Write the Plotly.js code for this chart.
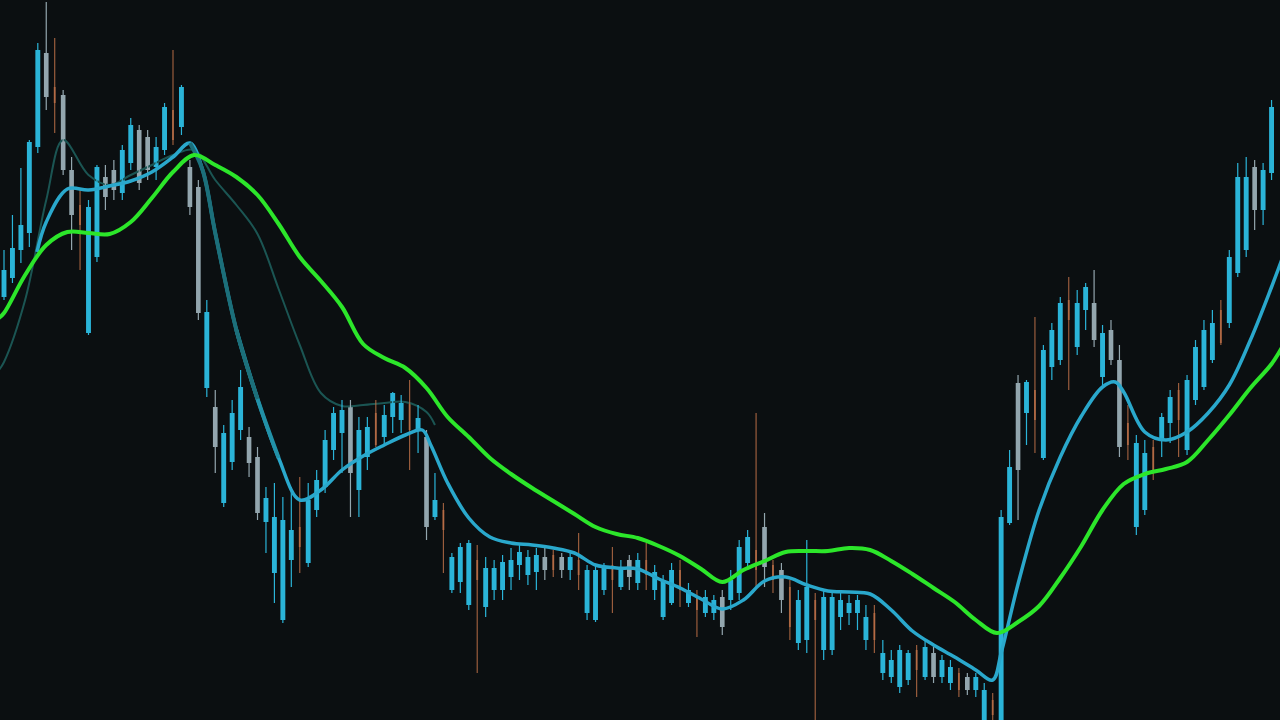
<!DOCTYPE html>
<html>
<head>
<meta charset="utf-8">
<script src="https://cdn.plot.ly/plotly-3.0.1.min.js"></script>
<style>
  html, body { margin: 0; padding: 0; background: #0b0f11; }
  #chart { width: 1280px; height: 720px; }
</style>
</head>
<body>
<div id="chart"></div>
<script>
// ---- candle data (arbitrary price units), one entry per bar ----
const candleType = [
  'up','up','up','up','up','down','doji','down','down','doji',
  'up','up','down','down','up','up','down','down','up','up',
  'doji','up','down','down','up','down','up','up','up','down',
  'down','up','up','up','up','doji','up','up','up','up',
  'up','down','up','up','doji','up','up','up','doji','up',
  'down','up','doji','up','up','up','doji','up','up','up',
  'up','up','up','up','down','doji','down','up','doji','up',
  'up','up','doji','up','down','up','doji','up','up','up',
  'doji','up','doji','up','up','down','up','up','up','doji',
  'down','doji','down','doji','up','up','doji','up','up','up',
  'up','up','up','doji','up','up','up','up','doji','up',
  'down','up','up','doji','down','up','up','doji','up','up',
  'down','up','doji','up','up','up','doji','up','up','down',
  'up','down','down','doji','up','up','doji','up','up','doji',
  'up','up','up','up','doji','up','up','up','down','up',
  'up'
];
const openP = [
  423,442,470,487,573,667,633,625,550,515,
  387,463,543,550,527,557,590,583,553,570,
  610,593,553,533,332,313,217,258,290,283,
  263,198,147,100,160,193,157,210,233,270,
  287,313,230,263,307,283,303,300,317,290,
  283,203,210,130,138,115,160,113,130,130,
  143,155,145,148,163,165,163,150,160,107,
  100,130,155,133,160,137,160,130,103,117,
  150,117,123,107,107,123,120,127,157,170,
  193,155,150,133,77,80,120,70,70,103,
  107,107,80,107,47,43,33,40,70,43,
  67,43,37,47,43,30,-5,20,-5,197,
  337,307,330,262,353,360,420,373,410,417,
  343,390,360,297,193,210,273,280,297,330,
  270,320,333,360,410,397,447,470,553,510,
  547
];
const closeP = [
  450,472,495,578,670,623,617,550,505,495,
  513,553,523,530,570,595,537,550,573,613,
  580,633,513,407,408,273,287,307,333,257,
  207,222,203,200,190,173,220,240,280,307,
  310,247,290,293,275,305,327,317,290,302,
  193,220,190,163,173,177,140,152,152,158,
  160,168,163,165,150,150,150,163,145,150,
  150,152,140,153,143,160,145,148,140,150,
  130,130,110,123,120,93,140,173,183,150,
  153,140,120,93,120,133,100,123,123,120,
  117,120,103,80,67,60,70,67,50,73,
  43,60,53,30,30,43,30,5,203,253,
  250,338,300,370,390,417,400,417,433,380,
  387,360,273,275,277,267,250,303,323,300,
  340,373,390,397,377,463,543,543,510,550,
  613
];
const highP = [
  470,505,552,580,677,718,682,630,563,530,
  520,555,555,560,575,602,595,590,583,617,
  670,635,560,540,420,330,295,320,350,293,
  273,233,237,223,233,243,237,250,290,313,
  320,320,303,303,320,315,328,325,340,315,
  290,247,217,167,177,180,175,163,160,165,
  172,175,170,172,172,170,167,170,187,155,
  154,157,173,160,165,167,177,155,145,157,
  160,137,130,130,125,130,150,180,190,307,
  207,160,157,140,130,180,127,130,130,127,
  125,125,115,115,80,70,75,70,75,80,
  73,65,60,52,47,47,37,27,210,270,
  345,340,403,375,397,423,443,430,437,450,
  395,400,375,315,285,280,280,307,330,337,
  345,380,400,410,420,470,557,563,560,557,
  620
];
const lowP = [
  420,437,457,473,567,610,587,545,470,450,
  385,458,510,520,520,550,530,540,540,565,
  575,585,505,400,323,247,213,250,280,243,
  200,167,117,97,133,147,153,203,227,260,
  247,203,203,250,273,275,287,287,250,267,
  180,200,147,127,127,110,47,103,120,120,
  130,140,135,130,140,143,142,140,130,100,
  98,125,107,130,130,130,130,120,100,115,
  113,113,83,103,100,85,110,120,150,133,
  133,127,107,80,70,67,0,60,65,90,
  95,90,70,67,40,37,27,35,23,40,
  37,37,30,23,25,23,-10,-5,-10,195,
  200,275,267,260,340,355,330,365,390,373,
  335,355,263,260,185,205,240,263,277,263,
  265,315,330,357,375,392,443,463,490,495,
  540
];

// ---- moving averages: position (bar index) and value ----
const slowMAx = [-0.6,0,2.5,5,7.5,10,12.5,15,17.5,20,22.5,25,27.5,30,32.5,35,37.5,40,42.5,45,47.5,50,52.5,55,57.5,60,62.5,65,67.5,70,72.5,75,77.5,80,82.5,85,87.5,90,92.5,95,97.5,100,102.5,105,107.5,110,112.5,115,117.5,120,122.5,125,127.5,130,132.5,135,137.5,140,142.5,145,147.5,150,151.2];
const slowMA  = [402,407,445,475,488,487,486,498,522,548,565,555,543,525,496,463,439,413,376,362,352,332,303,283,262,246,232,219,206,193,186,182,174,164,151,138,150,159,168,169,169,172,170,159,146,132,118,100,87,98,114,142,174,210,236,246,251,258,280,305,332,356,372];

const midMAx = [3.9,5,7.5,10,12.5,15,17.5,20,22,23.5,25,27.5,30,32.5,35,37.5,40,42.5,45,47.5,49.5,50.5,52.5,55,57.5,60,62.5,65,67.5,70,72.5,75,77.5,80,82.5,85,87.5,90,92.5,95,97.5,100,102.5,105,107.5,110,112.5,115,117,118,120,122.5,125,127.5,130,131.5,132.5,135,137.5,140,142.5,145,147.5,150,151.2];
const midMA  = [468,498,531,530,534,539,548,563,577,550,487,390,321,262,220,230,250,264,275,285,290,275,237,202,183,177,175,172,167,155,152,151,141,132,121,111,120,139,143,135,129,128,126,110,89,75,63,50,40,67,136,210,263,304,333,338,328,288,280,288,307,335,380,433,460];

const fastMAx = [-0.6,0,2.5,5,7,10,12.5,15,17.5,20,22.5,25,27.5,30,32.5,35,37.5,40,42.5,45,47.5,50,51];
const fastMA  = [350,358,420,520,580,545,535,545,555,565,570,540,515,486,431,375,327,314,315,317,318,308,295];

// ---- build traces ----
const BG = '#0b0f11';
const traces = [];

traces.push({
  type: 'scatter', mode: 'lines', x: fastMAx, y: fastMA,
  line: { color: '#1b5553', width: 2, shape: 'spline', smoothing: 1 },
  hoverinfo: 'skip'
});

const styles = {
  doji: { color: 'rgba(190,112,72,0.8)', body: 0.22, wick: 1.2 },
  down: { color: '#93a6ae', body: 0.55, wick: 1.2 },
  up:   { color: '#2bb4d8', body: 0.58, wick: 1.2 }
};
const idx = candleType.map((_, i) => i);
['doji', 'down', 'up'].forEach(kind => {
  const st = styles[kind];
  const sel = idx.filter(i => candleType[i] === kind);
  traces.push({
    type: 'scatter', mode: 'lines',
    x: sel.flatMap(i => [i, i, null]),
    y: sel.flatMap(i => [lowP[i], highP[i], null]),
    line: { color: st.color, width: st.wick },
    hoverinfo: 'skip'
  });
  traces.push({
    type: 'bar',
    x: sel,
    base: sel.map(i => Math.min(openP[i], closeP[i])),
    y: sel.map(i => Math.max(Math.abs(closeP[i] - openP[i]), 2)),
    width: st.body,
    marker: { color: st.color, line: { width: 0 } },
    hoverinfo: 'skip'
  });
});

traces.push({
  type: 'scatter', mode: 'lines', x: midMAx, y: midMA,
  line: { color: '#2aa8cc', width: 3.5, shape: 'spline', smoothing: 1 },
  hoverinfo: 'skip'
});
// dimmer stretch of the mid average right after its top
function midSegment(from, to, color) {
  const sel = midMAx.map((x, i) => i).filter(i => midMAx[i] >= from && midMAx[i] <= to);
  traces.push({
    type: 'scatter', mode: 'lines',
    x: sel.map(i => midMAx[i]), y: sel.map(i => midMA[i]),
    line: { color: color, width: 4, shape: 'spline', smoothing: 1 },
    hoverinfo: 'skip'
  });
}
midSegment(27.5, 32.5, '#2291a8');
midSegment(22, 30, '#1c6f7a');

traces.push({
  type: 'scatter', mode: 'lines', x: slowMAx, y: slowMA,
  line: { color: '#2ce62a', width: 4, shape: 'spline', smoothing: 1 },
  hoverinfo: 'skip'
});

const layout = {
  width: 1280, height: 720,
  margin: { l: 0, r: 0, t: 0, b: 0, pad: 0 },
  paper_bgcolor: BG, plot_bgcolor: BG,
  showlegend: false, barmode: 'overlay', hovermode: false,
  xaxis: { range: [-0.473, 151.0], visible: false, showgrid: false, zeroline: false, fixedrange: true },
  yaxis: { range: [0, 720], visible: false, showgrid: false, zeroline: false, fixedrange: true }
};

Plotly.newPlot('chart', traces, layout, { staticPlot: true, displayModeBar: false });
</script>
</body>
</html>
